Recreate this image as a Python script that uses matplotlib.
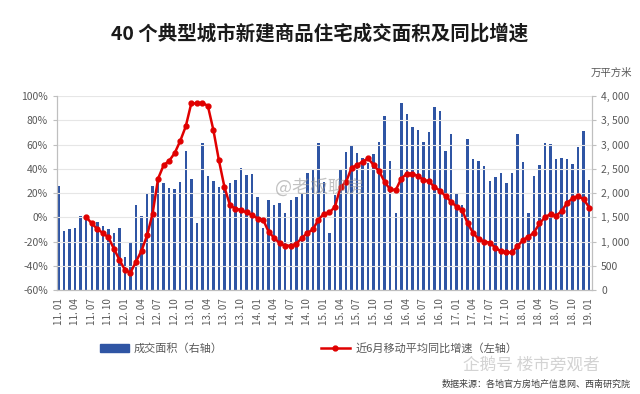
import numpy as np
import matplotlib.pyplot as plt
from matplotlib.lines import Line2D
from matplotlib.patches import Patch

plt.rcParams['font.family'] = ['Noto Sans CJK SC', 'DejaVu Sans']

# 成交面积（万平方米），2011.01 - 2019.01 每月
area = [2150, 1225, 1250, 1275, 1525, 1500, 1425, 1400, 1325, 1250, 1175, 1275,
        675, 1000, 1750, 1525, 2000, 2150, 2230, 2215, 2100, 2080, 2220, 2870,
        2290, 1375, 3040, 2360, 2240, 2120, 2120, 2200, 2270, 2520, 2370, 2400,
        1925, 1270, 1856, 1753, 1787, 1581, 1856, 1924, 1993, 2405, 2502, 3024,
        2220, 1182, 1959, 2488, 2852, 2983, 2832, 2715, 2612, 2804, 3058, 3588,
        2660, 1581, 3863, 3629, 3368, 3299, 3045, 3265, 3766, 3691, 2859, 3223,
        1993, 1753, 3113, 2694, 2660, 2557, 2254, 2323, 2405, 2213, 2405, 3210,
        2639, 1581, 2351, 2577, 3024, 3003, 2694, 2729, 2694, 2598, 2942, 3285,
        2268]

# 近6月移动平均同比增速（%），从2011.06开始
growth = [0, -5, -9.7, -13, -16.5, -26, -35, -43.5, -45.7, -36.6, -27.6, -15,
          3, 32, 43, 46.6, 53, 63, 75, 94, 94, 94.5, 92, 72,
          47, 25, 10, 7, 6, 4, 2, -1, -2, -12, -17, -21.5,
          -23.4, -23.4, -22, -17, -13, -10, -2, 3, 4, 8.7, 25, 29,
          41, 43, 46, 48.6, 43, 38, 29, 23, 22.5, 32, 36, 36,
          34, 31, 29.6, 25, 22, 17.5, 13, 8.7, 6, -5, -13, -18,
          -20, -21, -25, -28, -29, -29, -24, -19, -16, -12.7, -5, 0,
          2.7, 1.3, 5, 12, 15.6, 17.5, 14.8, 8]

months = []
for y in range(11, 20):
    for m in range(1, 13):
        months.append(f"{y}. {m:02d}")
months = months[:len(area)]
growth_start = 5

left_ticks = [-60, -40, -20, 0, 20, 40, 60, 80, 100]
right_ticks = [0, 500, 1000, 1500, 2000, 2500, 3000, 3500, 4000]

bar_color = '#2F55A4'
line_color = '#E00000'
grey = '#595959'

fig = plt.figure(figsize=(6.4, 3.94), dpi=100)
ax = fig.add_axes([0.089, 0.264, 0.836, 0.492])
ax2 = ax.twinx()

x = np.arange(len(area))
ax2.bar(x, area, width=0.45, color=bar_color, zorder=2)
ax2.set_ylim(0, 4000)
ax2.set_yticks(right_ticks)
ax2.set_yticklabels([f"{v:,}".replace(',', ', ') for v in right_ticks],
                    fontsize=7.5, color=grey)

xl = np.arange(growth_start, growth_start + len(growth))
ax.plot(xl, growth, color=line_color, lw=1.8, marker='o', ms=3.5, zorder=5)
ax.set_ylim(-60, 100)
ax.set_yticks(left_ticks)
ax.set_yticklabels([f"{v}%" for v in left_ticks], fontsize=7.5, color=grey)
ax.grid(axis='y', color='#E6E6E6', lw=0.8)
ax.set_axisbelow(True)

# 折线在柱子上面
ax.set_zorder(ax2.get_zorder() + 1)
ax.patch.set_visible(False)

ax.set_xlim(-0.3, len(area) - 0.5)
ax.set_xticks(x[::3])
ax.set_xticklabels(months[::3], rotation=90, fontsize=7, color=grey)
ax.tick_params(axis='x', length=0, pad=6)
ax.tick_params(axis='y', length=3, color='#BFBFBF')
ax2.tick_params(axis='y', length=3, color='#BFBFBF')

for a in (ax, ax2):
    a.spines['top'].set_visible(False)
    for s in ('left', 'right', 'bottom'):
        a.spines[s].set_color('#BFBFBF')
        a.spines[s].set_linewidth(0.8)

fig.text(0.5, 0.915, "40 个典型城市新建商品住宅成交面积及同比增速",
         ha='center', va='center', fontsize=14, fontweight='bold', color='#1a1a1a')
fig.text(0.955, 0.815, "万平方米", ha='center', va='center', fontsize=7.5, color=grey)

handles = [Patch(color=bar_color),
           Line2D([], [], color=line_color, lw=1.8, marker='o', ms=3.5)]
fig.legend(handles, ["成交面积（右轴）", "近6月移动平均同比增速（左轴）"],
           loc='center', bbox_to_anchor=(0.482, 0.115), ncol=2, frameon=False,
           fontsize=8, handlelength=2.6, handletextpad=0.5, columnspacing=8.8,
           labelcolor=grey)

fig.text(0.5, 0.525, "@老板聊房", ha='center', va='center', fontsize=13,
         color='#9a9a9a', alpha=0.6, zorder=10)
fig.text(0.83, 0.072, "企鹅号 楼市旁观者", ha='center', va='center', fontsize=12,
         color='#c8c8c8', alpha=0.8)
fig.text(0.985, 0.012, "数据来源：各地官方房地产信息网、西南研究院",
         ha='right', va='bottom', fontsize=6.5, color='#404040')

fig.savefig('out.png', dpi=100)
